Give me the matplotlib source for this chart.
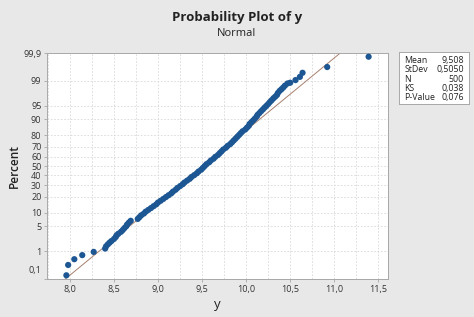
import numpy as np
import matplotlib
matplotlib.use("Agg")
import matplotlib.pyplot as plt
from matplotlib.transforms import ScaledTranslation
from statistics import NormalDist
import math

# sorted sample values and their plotting percent
y_vals = [7.96, 7.98, 8.05, 8.14, 8.27,
          8.40, 8.41, 8.43, 8.45, 8.47, 8.50, 8.52, 8.53, 8.55, 8.58,
          8.60, 8.62, 8.64, 8.65, 8.67, 8.69, 8.77, 8.79, 8.81, 8.84,
          8.86, 8.89, 8.92, 8.95, 8.98, 9.00, 9.03, 9.06, 9.09, 9.12,
          9.15, 9.17, 9.20, 9.22, 9.25, 9.28, 9.30, 9.33, 9.36, 9.38,
          9.41, 9.44, 9.46, 9.49, 9.51, 9.53, 9.55, 9.58, 9.60, 9.63,
          9.65, 9.68, 9.70, 9.72, 9.74, 9.77, 9.79, 9.82, 9.84, 9.86,
          9.88, 9.90, 9.92, 9.94, 9.96, 9.99, 10.01, 10.03, 10.04, 10.06,
          10.08, 10.10, 10.12, 10.13, 10.15, 10.17, 10.19, 10.21, 10.23, 10.25,
          10.27, 10.29, 10.31, 10.33, 10.35, 10.36, 10.38, 10.40, 10.42, 10.44,
          10.47,
          10.50, 10.56, 10.61, 10.64, 10.92, 11.39]
pct = [0.14, 0.34, 0.54, 0.74, 0.94,
       1.2, 1.4, 1.6, 1.8, 2.0, 2.3, 2.6, 2.9, 3.2, 3.6,
       4.0, 4.5, 5.0, 5.5, 6.1, 6.7, 7.4, 8.1, 8.9, 9.7,
       10.6, 11.5, 12.5, 13.6, 14.7, 15.9, 17.1, 18.4, 19.8, 21.2,
       22.7, 24.2, 25.8, 27.4, 29.1, 30.9, 32.6, 34.5, 36.3, 38.2,
       40.1, 42.1, 44.0, 46.0, 48.0, 50.0, 52.0, 54.0, 56.0, 57.9,
       59.9, 61.8, 63.7, 65.5, 67.4, 69.1, 70.9, 72.6, 74.2, 75.8,
       77.3, 78.8, 80.2, 81.6, 82.9, 84.1, 85.3, 86.4, 87.5, 88.5,
       89.4, 90.3, 91.2, 91.9, 92.6, 93.3, 93.9, 94.5, 95.0, 95.5,
       96.0, 96.4, 96.8, 97.1, 97.4, 97.7, 98.0, 98.2, 98.4, 98.6,
       98.8,
       98.86, 99.06, 99.26, 99.46, 99.66, 99.86]

mean, stdev = 9.508, 0.5050
stat_names = ["Mean", "StDev", "N", "KS", "P-Value"]
stat_values = ["9,508", "0,5050", "500", "0,038", "0,076"]

pct_ticks = [0.1, 1, 5, 10, 20, 30, 40, 50, 60, 70, 80, 90, 95, 99, 99.9]
x_ticks = [8.0, 8.5, 9.0, 9.5, 10.0, 10.5, 11.0, 11.5]

nd = NormalDist()
_ppf = np.vectorize(nd.inv_cdf, otypes=[float])
_erf = np.vectorize(math.erf, otypes=[float])


def fwd(p):
    p = np.clip(np.asarray(p, dtype=float) / 100.0, 1e-9, 1 - 1e-9)
    return _ppf(p)


def inv(z):
    z = np.asarray(z, dtype=float)
    return 50.0 * (1 + _erf(z / math.sqrt(2)))


FONT = "Open Sans"
plt.rcParams["font.family"] = [FONT, "DejaVu Sans"]

fig = plt.figure(figsize=(4.74, 3.17), dpi=100, facecolor="#e8e8e8")
ax = fig.add_axes([47 / 474, 1 - 279 / 317, 341 / 474, 226 / 317])
ax.set_facecolor("white")
ax.set_yscale("function", functions=(fwd, inv))
ax.set_ylim(0.1, 99.9)
ax.set_xlim(7.74, 11.61)

# grid
for v in np.arange(7.75, 11.6, 0.25):
    ax.axvline(v, color="#d8d8d8", lw=0.6, ls=(0, (2, 2)), zorder=0)
for p in pct_ticks[1:-1]:
    ax.axhline(p, color="#d8d8d8", lw=0.6, ls=(0, (2, 2)), zorder=0)

# fitted line
zz = np.array([-3.3, 3.3])
ax.plot(mean + stdev * zz, inv(zz), color="#a8806e", lw=0.7, zorder=2)

ax.scatter(y_vals, pct, s=20, color="#1c5693", edgecolors="none", zorder=3)

ax.set_yticks(pct_ticks)
ax.set_yticklabels([("%g" % p).replace(".", ",") for p in pct_ticks])
ax.set_xticks(x_ticks)
ax.set_xticklabels([("%.1f" % v).replace(".", ",") for v in x_ticks])
ax.minorticks_off()
ax.tick_params(labelsize=6.5, length=2, width=0.5, color="#999999",
               labelcolor="#333333", pad=2)
lab0 = ax.get_yticklabels()[0]
lab0.set_transform(lab0.get_transform() + ScaledTranslation(0, 9 / 100, fig.dpi_scale_trans))
for s in ax.spines.values():
    s.set_color("#a8a8a8")
    s.set_linewidth(0.7)

ax.set_xlabel("y", fontsize=9.5, color="#222222", labelpad=3)
ax.set_ylabel("Percent", fontsize=8.5, fontweight="semibold", color="#222222", labelpad=2)

fig.text(0.5, 1 - 18 / 317, "Probability Plot of y", ha="center", va="center",
         fontsize=9.5, fontweight="bold", color="#222222")
fig.text(0.5, 1 - 33 / 317, "Normal", ha="center", va="center",
         fontsize=8, color="#222222")

# stats box
box = fig.add_axes([399 / 474, 1 - 104 / 317, 70 / 474, 52 / 317])
box.set_xticks([])
box.set_yticks([])
box.set_facecolor("white")
for s in box.spines.values():
    s.set_color("#a8a8a8")
    s.set_linewidth(0.7)
for i, (n, v) in enumerate(zip(stat_names, stat_values)):
    yy = 0.84 - i * 0.18
    box.text(0.08, yy, n, fontsize=6.3, va="center", ha="left", color="#222222")
    box.text(0.93, yy, v, fontsize=6.3, va="center", ha="right", color="#222222")

fig.savefig("out.png", dpi=100, facecolor=fig.get_facecolor())
